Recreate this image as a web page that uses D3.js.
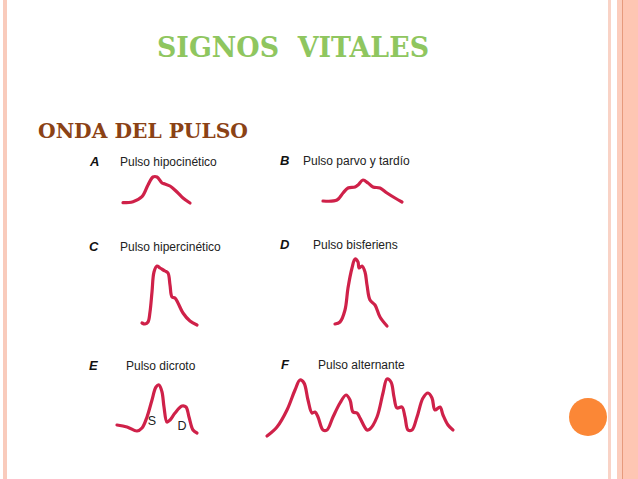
<!DOCTYPE html>
<html>
<head>
<meta charset="utf-8">
<script src="https://cdn.jsdelivr.net/npm/d3@7"></script>
<style>
  html, body { margin: 0; padding: 0; background: #fff; overflow: hidden; }
  svg { display: block; }
</style>
</head>
<body>
<svg id="slide" width="638" height="479"></svg>
<script>
// Panel letters and captions, in reading order
const letters = ['A', 'B', 'C', 'D', 'E', 'F'];
const captions = [
    'Pulso hipocinético',
    'Pulso parvo y tardío',
    'Pulso hipercinético',
    'Pulso bisferiens',
    'Pulso dicroto',
    'Pulso alternante',
];

// Waveforms: [time, amplitude] (arbitrary units)
const pulsoA = [[0,1.3],[10,2.3],[19,7.3],[25,19],[30,27],[34,27],[39,21],[42,20],[47,18],[54,12],[60,6],[67,1]];
const pulsoB = [[0,3],[14,4],[20,11],[25,16],[32,17],[35,19],[40,24],[45,21],[50,17],[57,16],[64,11],[72,6],[79,2]];
const pulsoC = [[1,3],[4,2],[7,4],[9,14],[11,34],[13,54],[16,60],[19,58],[24,55],[27,53],[29,41],[31,29],[34,28],[37,23],[42,13],[49,5],[56,1]];
const pulsoD = [[2,2],[7,4],[12,16],[15,38],[19,58],[22,67],[25,64],[26,58],[29,60],[32,54],[34,41],[37,26],[42,21],[47,9],[54,0]];
const pulsoE = [[1,8],[11,6],[21,2],[26,5],[31,16],[36,33],[40,46],[43,48],[46,41],[48,26],[51,11],[54,13],[59,20],[66,27],[70,26],[73,16],[77,3],[81,0]];
const pulsoF = [[1,1],[11,10],[21,27],[29,47],[34,57],[38,54],[42,37],[46,24],[49,25],[52,20],[57,7],[61,7],[67,20],[74,34],[80,42],[84,37],[87,25],[91,24],[94,19],[101,7],[104,8],[111,20],[117,44],[121,58],[125,55],[128,40],[131,29],[136,30],[139,20],[142,7],[146,7],[151,20],[157,39],[162,44],[166,39],[169,27],[174,30],[177,22],[182,12],[187,7]];

// Systolic / diastolic marks on the dicrotic pulse: [time, amplitude, text]
const dicrotoMarks = [[36, 8, 'S'], [66, 3, 'D']];

const waves = [pulsoA, pulsoB, pulsoC, pulsoD, pulsoE, pulsoF];

// where each panel sits on the slide
const frames = [
    { lx: 90,  ly: 166, cx: 120, cy: 166, x0: 123, base: 204 },
    { lx: 280, ly: 165, cx: 303, cy: 165, x0: 323, base: 204 },
    { lx: 89,  ly: 251, cx: 120, cy: 251, x0: 141, base: 326 },
    { lx: 280, ly: 249, cx: 313, cy: 249, x0: 333, base: 326 },
    { lx: 89,  ly: 370, cx: 126, cy: 370, x0: 116, base: 433 },
    { lx: 281, ly: 369, cx: 318, cy: 369, x0: 266, base: 437 },
];

const svg = d3.select('#slide');

// slide frame: left stripe and right border band
svg.append('rect').attr('x', 3).attr('y', 0).attr('width', 4).attr('height', 479).attr('fill', '#f9cbbc');
svg.append('rect').attr('x', 608).attr('y', 0).attr('width', 3).attr('height', 479).attr('fill', '#f9d3c6');
svg.append('rect').attr('x', 617).attr('y', 0).attr('width', 5).attr('height', 479).attr('fill', '#fccdbd');
svg.append('rect').attr('x', 622).attr('y', 0).attr('width', 16).attr('height', 479).attr('fill', '#fec6b3');
svg.append('rect').attr('x', 622).attr('y', 0).attr('width', 1).attr('height', 479).attr('fill', '#e79a7c');

svg.append('text')
    .attr('x', 157).attr('y', 57)
    .attr('font-family', 'DejaVu Serif')
    .attr('font-weight', 'bold')
    .attr('font-size', 27)
    .attr('fill', '#8fc65f')
    .attr('textLength', 272)
    .attr('lengthAdjust', 'spacingAndGlyphs')
    .style('white-space', 'pre')
    .text('SIGNOS  VITALES');

svg.append('text')
    .attr('x', 38).attr('y', 138)
    .attr('font-family', 'DejaVu Serif')
    .attr('font-weight', 'bold')
    .attr('font-size', 20)
    .attr('fill', '#8b4215')
    .attr('textLength', 210)
    .attr('lengthAdjust', 'spacingAndGlyphs')
    .text('ONDA DEL PULSO');

const line = d3.line().curve(d3.curveCatmullRom.alpha(0.5));

waves.forEach((wave, i) => {
    let f = frames[i];
    let g = svg.append('g');

    g.append('text')
        .attr('x', f.lx).attr('y', f.ly)
        .attr('font-family', 'Liberation Sans, Arial, sans-serif')
        .attr('font-weight', 'bold')
        .attr('font-style', 'italic')
        .attr('font-size', 13)
        .attr('fill', '#111')
        .text(letters[i]);

    g.append('text')
        .attr('x', f.cx).attr('y', f.cy)
        .attr('font-family', 'Liberation Sans, Arial, sans-serif')
        .attr('font-size', 12)
        .attr('fill', '#222')
        .text(captions[i]);

    let tMax = d3.max(wave, (d) => d[0]);
    let vMax = d3.max(wave, (d) => d[1]);
    let x = d3.scaleLinear().domain([0, tMax]).range([f.x0, f.x0 + tMax]);
    let y = d3.scaleLinear().domain([0, vMax]).range([f.base, f.base - vMax]);

    g.append('path')
        .attr('d', line(wave.map((d) => [x(d[0]), y(d[1])])))
        .attr('fill', 'none')
        .attr('stroke', '#cf2149')
        .attr('stroke-width', 3.2)
        .attr('stroke-linejoin', 'round')
        .attr('stroke-linecap', 'round');

    if (i === 4) {
        g.selectAll('text.mark')
            .data(dicrotoMarks)
            .enter()
            .append('text')
            .attr('class', 'mark')
            .attr('x', (d) => x(d[0]))
            .attr('y', (d) => y(d[1]))
            .attr('text-anchor', 'middle')
            .attr('font-family', 'Liberation Sans, Arial, sans-serif')
            .attr('font-size', 12.5)
            .attr('fill', '#222')
            .text((d) => d[2]);
    }
});

// orange bullet bottom right
svg.append('circle').attr('cx', 588).attr('cy', 417).attr('r', 19).attr('fill', '#fb8736');
</script>
</body>
</html>
